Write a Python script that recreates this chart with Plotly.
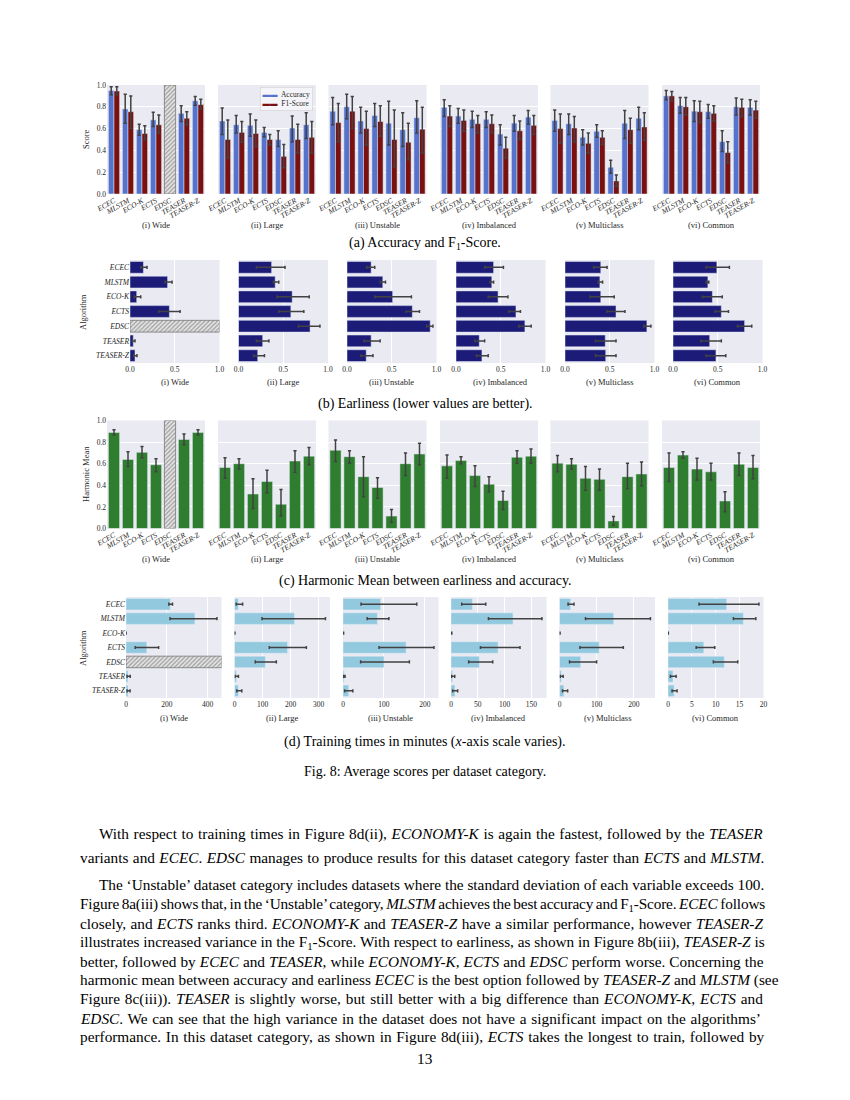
import plotly.graph_objects as go

algorithms = ["ECEC", "MLSTM", "ECO-K", "ECTS", "EDSC", "TEASER", "TEASER-Z"]
categories = ["(i) Wide", "(ii) Large", "(iii) Unstable", "(iv) Imbalanced", "(v) Multiclass", "(vi) Common"]

# (a) accuracy / F1 per category: mean and CI bounds (EDSC has no result on Wide)
acc_mean = [
    [0.95, 0.78, 0.59, 0.68, None, 0.74, 0.855],
    [0.67, 0.635, 0.63, 0.565, 0.50, 0.605, 0.635],
    [0.76, 0.80, 0.67, 0.72, 0.65, 0.59, 0.70],
    [0.795, 0.715, 0.685, 0.685, 0.55, 0.65, 0.705],
    [0.675, 0.645, 0.52, 0.575, 0.245, 0.65, 0.695],
    [0.90, 0.81, 0.76, 0.755, 0.48, 0.80, 0.795],
]
acc_low = [
    [0.91, 0.65, 0.54, 0.62, None, 0.665, 0.815],
    [0.545, 0.56, 0.53, 0.525, 0.435, 0.48, 0.51],
    [0.635, 0.69, 0.56, 0.62, 0.45, 0.435, 0.56],
    [0.71, 0.65, 0.61, 0.61, 0.45, 0.575, 0.64],
    [0.575, 0.545, 0.45, 0.52, 0.19, 0.51, 0.59],
    [0.865, 0.74, 0.665, 0.695, 0.39, 0.725, 0.725],
]
acc_high = [
    [0.985, 0.915, 0.64, 0.75, None, 0.81, 0.895],
    [0.79, 0.72, 0.735, 0.61, 0.58, 0.715, 0.745],
    [0.885, 0.915, 0.795, 0.83, 0.85, 0.745, 0.855],
    [0.865, 0.785, 0.76, 0.755, 0.635, 0.72, 0.765],
    [0.77, 0.735, 0.59, 0.635, 0.31, 0.765, 0.795],
    [0.95, 0.885, 0.855, 0.82, 0.58, 0.88, 0.865],
]
f1_mean = [
    [0.945, 0.755, 0.555, 0.635, None, 0.695, 0.82],
    [0.50, 0.565, 0.555, 0.50, 0.345, 0.50, 0.52],
    [0.655, 0.76, 0.60, 0.665, 0.50, 0.475, 0.595],
    [0.715, 0.675, 0.645, 0.645, 0.42, 0.58, 0.63],
    [0.60, 0.605, 0.465, 0.52, 0.12, 0.59, 0.615],
    [0.90, 0.80, 0.755, 0.74, 0.38, 0.795, 0.77],
]
f1_low = [
    [0.91, 0.60, 0.50, 0.56, None, 0.635, 0.78],
    [0.33, 0.475, 0.435, 0.45, 0.24, 0.375, 0.375],
    [0.48, 0.60, 0.45, 0.53, 0.25, 0.315, 0.375],
    [0.62, 0.575, 0.56, 0.56, 0.33, 0.50, 0.545],
    [0.465, 0.48, 0.375, 0.455, 0.07, 0.465, 0.495],
    [0.855, 0.725, 0.655, 0.67, 0.285, 0.71, 0.695],
]
f1_high = [
    [0.985, 0.90, 0.625, 0.725, None, 0.755, 0.87],
    [0.68, 0.665, 0.68, 0.545, 0.455, 0.64, 0.665],
    [0.83, 0.895, 0.76, 0.81, 0.77, 0.65, 0.795],
    [0.81, 0.77, 0.72, 0.725, 0.52, 0.67, 0.72],
    [0.735, 0.71, 0.56, 0.58, 0.175, 0.695, 0.745],
    [0.94, 0.885, 0.85, 0.81, 0.48, 0.87, 0.85],
]

# (b) earliness
early_mean = [
    [0.15, 0.42, 0.075, 0.44, None, 0.037, 0.056],
    [0.37, 0.41, 0.60, 0.585, 0.80, 0.27, 0.215],
    [0.27, 0.40, 0.51, 0.73, 0.93, 0.27, 0.215],
    [0.42, 0.40, 0.47, 0.67, 0.77, 0.26, 0.29],
    [0.40, 0.39, 0.40, 0.57, 0.915, 0.45, 0.455],
    [0.49, 0.39, 0.44, 0.54, 0.80, 0.41, 0.48],
]
early_low = [
    [0.12, 0.39, 0.045, 0.32, None, 0.026, 0.04],
    [0.20, 0.39, 0.43, 0.45, 0.67, 0.20, 0.17],
    [0.22, 0.37, 0.31, 0.66, 0.89, 0.19, 0.155],
    [0.32, 0.38, 0.36, 0.59, 0.70, 0.21, 0.23],
    [0.32, 0.37, 0.28, 0.47, 0.88, 0.34, 0.34],
    [0.37, 0.37, 0.33, 0.47, 0.72, 0.31, 0.37],
]
early_high = [
    [0.19, 0.47, 0.12, 0.56, None, 0.056, 0.078],
    [0.52, 0.45, 0.79, 0.73, 0.91, 0.34, 0.29],
    [0.31, 0.43, 0.72, 0.81, 0.96, 0.37, 0.29],
    [0.53, 0.42, 0.58, 0.72, 0.84, 0.32, 0.36],
    [0.47, 0.42, 0.55, 0.67, 0.96, 0.57, 0.57],
    [0.63, 0.40, 0.55, 0.62, 0.88, 0.54, 0.59],
]

# (c) harmonic mean between earliness and accuracy
hm_mean = [
    [0.89, 0.64, 0.705, 0.59, None, 0.825, 0.89],
    [0.565, 0.60, 0.32, 0.435, 0.225, 0.625, 0.67],
    [0.725, 0.665, 0.48, 0.38, 0.115, 0.60, 0.69],
    [0.58, 0.63, 0.49, 0.41, 0.26, 0.66, 0.67],
    [0.605, 0.595, 0.465, 0.455, 0.07, 0.48, 0.505],
    [0.565, 0.68, 0.55, 0.525, 0.255, 0.595, 0.565],
]
hm_low = [
    [0.865, 0.575, 0.655, 0.525, None, 0.775, 0.865],
    [0.465, 0.55, 0.185, 0.33, 0.115, 0.52, 0.59],
    [0.62, 0.605, 0.295, 0.28, 0.055, 0.49, 0.59],
    [0.465, 0.60, 0.39, 0.34, 0.175, 0.605, 0.605],
    [0.525, 0.55, 0.355, 0.355, 0.03, 0.37, 0.395],
    [0.435, 0.65, 0.45, 0.45, 0.155, 0.49, 0.46],
]
hm_high = [
    [0.915, 0.71, 0.76, 0.645, None, 0.875, 0.915],
    [0.655, 0.645, 0.46, 0.54, 0.36, 0.72, 0.75],
    [0.82, 0.72, 0.665, 0.47, 0.175, 0.70, 0.79],
    [0.68, 0.665, 0.58, 0.48, 0.345, 0.72, 0.735],
    [0.675, 0.645, 0.575, 0.55, 0.11, 0.605, 0.615],
    [0.70, 0.71, 0.65, 0.605, 0.34, 0.70, 0.675],
]

# (d) training times in minutes
time_mean = [
    [218, 338, 0.5, 102, None, 10, 10],
    [14, 214, 1, 189, 110, 7, 14],
    [92, 84, 1, 154, 100, 3, 14],
    [40, 116, 1, 88, 53, 3, 7.5],
    [30, 146, 1, 107, 57, 5, 12],
    [12.3, 15.8, 0.05, 7.5, 11.8, 1.05, 1.3],
]
time_low = [
    [210, 216, 0.3, 45, None, 5, 5],
    [6, 98, 0.5, 124, 74, 2, 8],
    [44, 59, 0.5, 88, 43, 1, 4],
    [20, 70, 0.5, 55, 33, 1, 3],
    [23, 70, 0.5, 55, 27, 2, 8],
    [6.5, 13.7, 0.03, 5.9, 9.5, 0.5, 0.85],
]
time_high = [
    [228, 446, 0.7, 160, None, 21, 20],
    [29, 324, 1.5, 256, 149, 14, 26],
    [180, 112, 1.5, 222, 162, 5, 24],
    [65, 170, 1.5, 129, 78, 7, 12.5],
    [39, 245, 1.5, 172, 100, 10, 22],
    [19.05, 18.4, 0.07, 9.8, 14.6, 1.7, 1.9],
]
time_dticks = [200, 100, 100, 50, 100, 5]

score_ticks = [0.0, 0.2, 0.4, 0.6, 0.8, 1.0]
early_ticks = [0.0, 0.5, 1.0]

W, H = 850, 1100
OFF = 8  # the page body margin shifts the figure by this many pixels
BG = "#EAEAF2"
ERR = "#424242"
SERIF = "Liberation Serif"
C_ACC = "#5573CD"
C_F1 = "#7A1111"
C_EARLY = "#1c1c78"
C_HM = "#2F7E2F"
C_TIME = "#93C9DF"


def fx(p):
    return (p - OFF) / W


def fy(p):
    return 1 - (p - OFF) / H


def err_dict(mean, low, high):
    plus = [None if m is None else h - m for m, h in zip(mean, high)]
    minus = [None if m is None else m - l for m, l in zip(mean, low)]
    return dict(type="data", symmetric=False, array=plus, arrayminus=minus,
                color=ERR, thickness=1.5, width=1.6)


hatch = dict(color="#e4e4e4",
             pattern=dict(shape="/", fgcolor="#555555", bgcolor="#e4e4e4", size=3, solidity=0.4),
             line=dict(color="#777777", width=0.8))

# row layout in page pixels: (top, bottom, lefts, width)
rows = {
    "a": (85, 194, [107, 218, 328.5, 440, 550.5, 662], 98),
    "b": (260, 363, [130, 238.5, 347, 456, 565, 673], 89.5),
    "c": (420.5, 528.5, [107, 218, 328.5, 440, 550.5, 662], 98),
    "d": (597, 698, [126, 234.5, 343, 451, 559.5, 668], 95.5),
}

fig = go.Figure()
layout_axes = {}
annotations = []
tick_font = dict(family=SERIF, size=7.5, color="#262626")
tick_font_it = dict(family=SERIF, size=7.5, color="#262626", style="italic")
label_font = dict(family=SERIF, size=8.5, color="#262626")


def axis_names(n):
    return ("x" if n == 1 else f"x{n}"), ("y" if n == 1 else f"y{n}")


for r, key in enumerate(["a", "b", "c", "d"]):
    top, bottom, lefts, width = rows[key]
    for c in range(6):
        n = r * 6 + c + 1
        xn, yn = axis_names(n)
        xdom = [fx(lefts[c]), fx(lefts[c] + width)]
        ydom = [fy(bottom), fy(top)]
        if key in ("a", "c"):
            if key == "a":
                fig.add_trace(go.Bar(x=algorithms, y=acc_mean[c], width=0.4, offset=-0.4,
                                     marker=dict(color=C_ACC), name="Accuracy",
                                     error_y=err_dict(acc_mean[c], acc_low[c], acc_high[c]),
                                     xaxis=xn, yaxis=yn))
                fig.add_trace(go.Bar(x=algorithms, y=f1_mean[c], width=0.4, offset=0.0,
                                     marker=dict(color=C_F1), name="F1-Score",
                                     error_y=err_dict(f1_mean[c], f1_low[c], f1_high[c]),
                                     xaxis=xn, yaxis=yn))
                missing = [a for a, v in zip(algorithms, acc_mean[c]) if v is None]
            else:
                fig.add_trace(go.Bar(x=algorithms, y=hm_mean[c], marker=dict(color=C_HM),
                                     error_y=err_dict(hm_mean[c], hm_low[c], hm_high[c]),
                                     xaxis=xn, yaxis=yn))
                missing = [a for a, v in zip(algorithms, hm_mean[c]) if v is None]
            if missing:
                fig.add_trace(go.Bar(x=missing, y=[score_ticks[-1]] * len(missing), marker=hatch,
                                     hoverinfo="skip", xaxis=xn, yaxis=yn))
            layout_axes["xaxis" if n == 1 else f"xaxis{n}"] = dict(
                domain=xdom, anchor=yn, type="category", categoryorder="array",
                categoryarray=algorithms, range=[-0.5, 6.5], showgrid=False, zeroline=False,
                tickangle=-30, tickfont=tick_font_it, ticks="", showline=False, automargin=False)
            layout_axes["yaxis" if n == 1 else f"yaxis{n}"] = dict(
                domain=ydom, anchor=xn, range=[0, 1], tickvals=score_ticks, tickformat=".1f",
                showticklabels=(c == 0), gridcolor="white", gridwidth=0.9, zeroline=False,
                ticks="", tickfont=tick_font, showline=False, automargin=False)
        else:
            if key == "b":
                mean, low, high, color = early_mean[c], early_low[c], early_high[c], C_EARLY
                xmax = early_ticks[-1]
                xaxis_extra = dict(tickvals=early_ticks, tickformat=".1f")
            else:
                mean, low, high, color = time_mean[c], time_low[c], time_high[c], C_TIME
                xmax = 1.05 * max(h for h in high if h is not None)
                xaxis_extra = dict(dtick=time_dticks[c], tick0=0)
            fig.add_trace(go.Bar(y=algorithms, x=mean, orientation="h", marker=dict(color=color),
                                 error_x=err_dict(mean, low, high), xaxis=xn, yaxis=yn))
            missing = [a for a, v in zip(algorithms, mean) if v is None]
            if missing:
                fig.add_trace(go.Bar(y=missing, x=[xmax] * len(missing), orientation="h",
                                     marker=hatch, hoverinfo="skip", xaxis=xn, yaxis=yn))
            layout_axes["xaxis" if n == 1 else f"xaxis{n}"] = dict(
                domain=xdom, anchor=yn, range=[0, xmax], gridcolor="white", gridwidth=0.9,
                zeroline=False, ticks="", tickfont=tick_font, showline=False, automargin=False,
                **xaxis_extra)
            layout_axes["yaxis" if n == 1 else f"yaxis{n}"] = dict(
                domain=ydom, anchor=xn, type="category", categoryorder="array",
                categoryarray=algorithms, range=[6.5, -0.5], showgrid=False, zeroline=False,
                showticklabels=(c == 0), ticks="", tickfont=tick_font_it, showline=False,
                automargin=False)

# panel titles under each subplot
title_y = {"a": 225, "b": 382, "c": 559, "d": 718}
for key in ["a", "b", "c", "d"]:
    top, bottom, lefts, width = rows[key]
    for c, name in enumerate(categories):
        annotations.append(dict(text=name, x=fx(lefts[c] + width / 2), y=fy(title_y[key]),
                                xref="paper", yref="paper", showarrow=False, font=label_font,
                                xanchor="center", yanchor="middle"))

# y axis titles
for text, xp, yp in [("Score", 86, 139), ("Algorithm", 83, 312), ("Harmonic Mean", 86, 474),
                     ("Algorithm", 83, 648)]:
    annotations.append(dict(text=text, x=fx(xp), y=fy(yp), xref="paper", yref="paper",
                            showarrow=False, textangle=-90, font=label_font,
                            xanchor="center", yanchor="middle"))

# compact legend box inside panel (a)(ii)
legend_text = (f"<span style='color:{C_ACC}'>▬▬</span>  Accuracy<br>"
               f"<span style='color:{C_F1}'>▬▬</span>  F1-Score")
annotations.append(dict(text=legend_text, x=fx(313), y=fy(87), xref="paper", yref="paper",
                        showarrow=False, align="left", xanchor="right", yanchor="top",
                        font=dict(family=SERIF, size=7.5, color="#262626"),
                        bgcolor="rgba(246,246,250,0.9)", bordercolor="#cfcfcf", borderwidth=0.6,
                        borderpad=2))

cap_font = dict(family=SERIF, size=14, color="black")
captions = [
    ("(a) Accuracy and F<sub>1</sub>-Score.", 243),
    ("(b) Earliness (lower values are better).", 404),
    ("(c) Harmonic Mean between earliness and accuracy.", 581),
    ("(d) Training times in minutes (<i>x</i>-axis scale varies).", 742),
    ("Fig. 8: Average scores per dataset category.", 771),
]
for text, yp in captions:
    annotations.append(dict(text=text, x=fx(425), y=fy(yp), xref="paper", yref="paper",
                            showarrow=False, font=cap_font, xanchor="center", yanchor="middle"))

# body text lines: (text, left x, y, css spacing used to mimic justification)
body_lines = [
    ("With respect to training times in Figure 8d(ii), <i>ECONOMY-K</i> is again the fastest, followed by the <i>TEASER</i>", 97, 834, "word-spacing:0.8px"),
    ("variants and <i>ECEC</i>. <i>EDSC</i> manages to produce results for this dataset category faster than <i>ECTS</i> and <i>MLSTM</i>.", 78, 857, "word-spacing:0.6px"),
    ("The ‘Unstable’ dataset category includes datasets where the standard deviation of each variable exceeds 100.", 97, 884, ""),
    ("Figure 8a(iii) shows that, in the ‘Unstable’ category, <i>MLSTM</i> achieves the best accuracy and F<sub>1</sub>-Score. <i>ECEC</i> follows", 78, 904, "word-spacing:-1px;letter-spacing:-0.15px"),
    ("closely, and <i>ECTS</i> ranks third. <i>ECONOMY-K</i> and <i>TEASER-Z</i> have a similar performance, however <i>TEASER-Z</i>", 78, 923, "word-spacing:0.6px"),
    ("illustrates increased variance in the F<sub>1</sub>-Score. With respect to earliness, as shown in Figure 8b(iii), <i>TEASER-Z</i> is", 78, 942, ""),
    ("better, followed by <i>ECEC</i> and <i>TEASER</i>, while <i>ECONOMY-K</i>, <i>ECTS</i> and <i>EDSC</i> perform worse. Concerning the", 78, 961, "word-spacing:0.2px"),
    ("harmonic mean between accuracy and earliness <i>ECEC</i> is the best option followed by <i>TEASER-Z</i> and <i>MLSTM</i> (see", 78, 980, ""),
    ("Figure 8c(iii)). <i>TEASER</i> is slightly worse, but still better with a big difference than <i>ECONOMY-K</i>, <i>ECTS</i> and", 78, 999, "word-spacing:1.1px"),
    ("<i>EDSC</i>. We can see that the high variance in the dataset does not have a significant impact on the algorithms’", 78, 1018, "word-spacing:0.9px"),
    ("performance. In this dataset category, as shown in Figure 8d(iii), <i>ECTS</i> takes the longest to train, followed by", 78, 1037, "word-spacing:0.9px"),
]
body_font = dict(family=SERIF, size=15.3, color="black")
for text, xp, yp, css in body_lines:
    styled = f"<span style='{css}'>{text}</span>" if css else text
    annotations.append(dict(text=styled, x=fx(xp), y=fy(yp), xref="paper", yref="paper",
                            showarrow=False, font=body_font, xanchor="left", yanchor="middle"))
annotations.append(dict(text="13", x=fx(425), y=fy(1058), xref="paper", yref="paper",
                        showarrow=False, font=body_font, xanchor="center", yanchor="middle"))

fig.update_layout(
    width=W, height=H, margin=dict(l=0, r=0, t=0, b=0, pad=0),
    paper_bgcolor="white", plot_bgcolor=BG, barmode="overlay",
    bargap=0.2, annotations=annotations, showlegend=False,
    **layout_axes,
)

fig.write_html("out.html")
